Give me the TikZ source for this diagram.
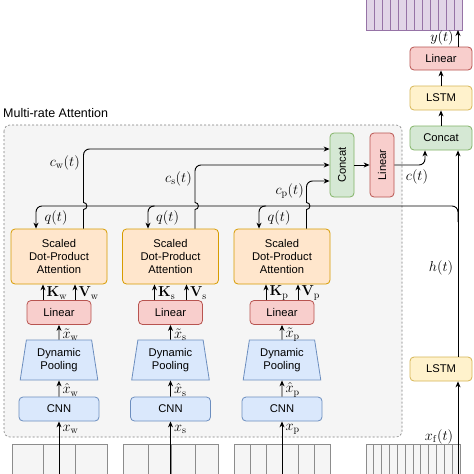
\documentclass[tikz,border=0pt]{standalone}
\usepackage[no-math]{fontspec}
\setmainfont{Liberation Sans}
\usepackage{graphicx}
\usetikzlibrary{shapes.geometric,arrows.meta}
\definecolor{attnF}{HTML}{FFE6CC}\definecolor{attnD}{HTML}{D79B00}
\definecolor{linF}{HTML}{F8CECC}\definecolor{linD}{HTML}{B85450}
\definecolor{bluF}{HTML}{DAE8FC}\definecolor{bluD}{HTML}{6C8EBF}
\definecolor{grnF}{HTML}{D5E8D4}\definecolor{grnD}{HTML}{82B366}
\definecolor{lstF}{HTML}{FFF2CC}\definecolor{lstD}{HTML}{D6B656}
\definecolor{purF}{HTML}{E1D5E7}\definecolor{purD}{HTML}{9673A6}
\definecolor{bgF}{HTML}{F5F5F5}\definecolor{barD}{HTML}{8C8C8C}
\begin{document}
\begin{tikzpicture}[x=1pt,y=-1pt,
  box/.style={draw, rounded corners=4pt, line width=0.8pt, inner sep=0pt, align=center, font=\fontsize{11.2}{13}\selectfont},
  attn/.style={box, fill=attnF, draw=attnD, minimum width=96pt, minimum height=55pt},
  lin/.style={box, fill=linF, draw=linD, minimum width=64pt, minimum height=24pt},
  cnn/.style={box, fill=bluF, draw=bluD, minimum width=80pt, minimum height=24pt},
  lstm/.style={box, fill=lstF, draw=lstD, minimum width=62pt, minimum height=24pt},
  grn/.style={box, fill=grnF, draw=grnD},
  pool/.style={trapezium, trapezium stretches=true, trapezium left angle=80, trapezium right angle=80, draw=bluD, fill=bluF, line width=0.8pt, minimum width=78pt, minimum height=40pt, inner sep=0pt, align=center, font=\fontsize{11.2}{13}\selectfont},
  arr/.style={draw=black, line width=0.9pt, -{Stealth[length=6pt,width=5pt]}},
  ln/.style={draw=black, line width=0.9pt},
  lbl/.style={inner sep=0pt, font=\fontsize{14}{16}\selectfont},
  bar/.style={draw=barD, fill=bgF, line width=0.7pt},
  barline/.style={draw=barD, line width=0.7pt},
]
\useasboundingbox (0,0) rectangle (474,474);
\clip (0,0) rectangle (474,474);
\fill[white] (0,0) rectangle (474,474);

% group frame
\draw[fill=bgF, draw=gray, line width=0.6pt, dash pattern=on 2pt off 2pt, rounded corners=6pt] (4,125) rectangle (402,437);
\node[anchor=west, inner sep=0pt, font=\fontsize{12.5}{14}\selectfont] (title) at (3,113) {Multi-rate Attention};

% input bars
\draw[bar] (12,444) rectangle (107,480);
\foreach \x in {43,75} \draw[barline] (\x,444) -- (\x,480);
\draw[bar] (123,444) rectangle (218,480);
\foreach \x in {148,171,195} \draw[barline] (\x,444) -- (\x,480);
\draw[bar] (234,444) rectangle (330,480);
\foreach \i in {1,...,5} \draw[barline] (234+\i*16,444) -- (234+\i*16,480);
\draw[bar] (366,444) rectangle (460,480);
\foreach \i in {1,...,11} \draw[barline] (366+\i*7.833,444) -- (366+\i*7.833,480);
% output bar
\draw[draw=purD, fill=purF, line width=0.7pt] (366,-10) rectangle (462,30);
\foreach \i in {1,...,11} \draw[draw=purD, line width=0.7pt] (366+\i*8,-10) -- (366+\i*8,30);

% columns
\foreach \n/\cx/\s in {1/59/w, 2/170.5/s, 3/282/p}{
  \node[attn] (a\n) at (\cx,256.5) {Scaled\\Dot-Product\\Attention};
  \node[lin] (l\n) at (\cx,312.5) {Linear};
  \node[pool] (p\n) at (\cx,360) {Dynamic\\Pooling};
  \node[cnn] (c\n) at (\cx,409) {CNN};
  \coordinate (in\n) at (\cx,476);
  \draw[arr] (in\n) -- (c\n.south);
  \draw[arr] (c\n.north) -- (p\n.south);
  \draw[arr] (p\n.north) -- (l\n.south);
  \draw[arr] ([xshift=-16pt]l\n.north) -- ([xshift=-16pt]a\n.south);
  \draw[arr] ([xshift=16pt]l\n.north) -- ([xshift=16pt]a\n.south);
  \node[lbl, anchor=west] (kl\n) at (\cx-12.5,293) {$\mathbf{K}_{\mathrm{\s}}$};
  \node[lbl, anchor=west] (vl\n) at (\cx+19.5,293) {$\mathbf{V}_{\mathrm{\s}}$};
  \node[lbl, anchor=west] (tl\n) at (\cx+3.5,335) {$\tilde{x}_{\mathrm{\s}}$};
  \node[lbl, anchor=west] (hl\n) at (\cx+3.5,390) {$\hat{x}_{\mathrm{\s}}$};
  \node[lbl, anchor=west] (xl\n) at (\cx+3.5,429) {$x_{\mathrm{\s}}$};
  \node[lbl, anchor=west] (ql\n) at (\cx-14.5,218) {$q(t)$};
}

% concat / linear inside frame
\node[grn, minimum width=24pt, minimum height=64pt] (cc) at (342,165) {\rotatebox{90}{Concat}};
\node[box, fill=linF, draw=linD, minimum width=24pt, minimum height=64pt] (lv) at (382,165) {\rotatebox{90}{Linear}};
\draw[arr] (cc.east) -- (lv.west);

% right column
\node[lstm] (lstmB) at (441,369) {LSTM};
\node[grn, minimum width=62pt, minimum height=24pt] (ccR) at (441,138) {Concat};
\node[lstm] (lstmT) at (441,98) {LSTM};
\node[box, fill=linF, draw=linD, minimum width=62pt, minimum height=23pt] (linT) at (441,58.5) {Linear};
\coordinate (xfin) at (458,476);
\coordinate (ybar) at (458,30);
\draw[arr] (xfin) -- ([xshift=17pt]lstmB.south);
\draw[arr] ([xshift=17pt]lstmB.north) -- ([xshift=17pt]ccR.south);
\draw[arr] (ccR.north) -- (lstmT.south);
\draw[arr] (lstmT.north) -- (linT.south);
\draw[arr] ([xshift=17pt]linT.north) -- (ybar);
\draw[arr, rounded corners=6pt] (lv.east) -| ([xshift=-16pt]ccR.south);
\node[lbl] (ctl) at (417,177) {$c(t)$};
\node[lbl] (htl) at (441,268) {$h(t)$};
\node[lbl] (xfl) at (439,437) {$x_{\mathrm{f}}(t)$};
\node[lbl] (ytl) at (442,38) {$y(t)$};

% q(t) distribution
\coordinate (qs) at (458,222);
\draw[arr, rounded corners=6pt] (qs) |- ([xshift=-23pt]a1.north |- 0,206) -- ([xshift=-23pt]a1.north);
\draw[arr, rounded corners=6pt] ([xshift=-16pt]a2.north |- 0,206) -| ([xshift=-22.5pt]a2.north);
\draw[arr, rounded corners=6pt] ([xshift=-16pt]a3.north |- 0,206) -| ([xshift=-23pt]a3.north);

% c outputs with hops
\foreach \n/\dy/\s in {1/16/w, 2/0/s, 3/-16/p}{
  \draw[arr] ([xshift=24.5pt]a\n.north) -- ([xshift=24.5pt]a\n.north |- 0,209.5)
    .. controls +(4.5,0) and +(4.5,0) .. ([xshift=24.5pt]a\n.north |- 0,202.5)
    -- ([xshift=24.5pt]a\n.north |- 0,196)
    [rounded corners=6pt] |- ([yshift=\dy pt]cc.west);
}
\node[lbl, anchor=east] (cwl) at (80,163) {$c_{\mathrm{w}}(t)$};
\node[lbl, anchor=east] (csl) at (192,179) {$c_{\mathrm{s}}(t)$};
\node[lbl, anchor=east] (cpl) at (304,191) {$c_{\mathrm{p}}(t)$};
\end{tikzpicture}
\end{document}
